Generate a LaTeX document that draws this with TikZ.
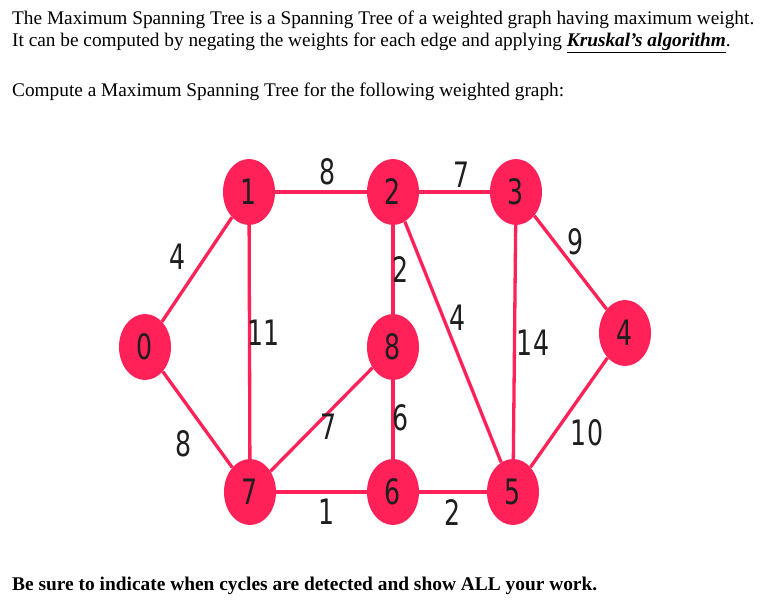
\documentclass[tikz,border=0pt]{standalone}
\usepackage{fontspec}
\setmainfont{Liberation Serif}
\newfontfamily\graphfont[FakeStretch=0.72]{DejaVu Sans}
\usetikzlibrary{shapes.geometric}
\definecolor{gpink}{RGB}{255,33,87}
\definecolor{gdigit}{RGB}{30,30,30}
\begin{document}
\begin{tikzpicture}[x=1pt,y=-1pt,
  vtx/.style={ellipse, fill=gpink, draw=none, minimum width=52pt, minimum height=66pt, inner sep=0pt, font=\graphfont\fontsize{35}{35}\selectfont, text=gdigit},
  edg/.style={draw=gpink, line width=3.3pt},
  wt/.style={font=\graphfont\fontsize{35}{35}\selectfont, text=gdigit, inner sep=0pt},
  txt/.style={anchor=base west, inner sep=0pt, font=\fontsize{19.3}{23}\selectfont},
  btxt/.style={anchor=base west, inner sep=0pt, font=\fontsize{19.4}{23}\selectfont\bfseries}]
\useasboundingbox (0,0) rectangle (770,609);
% text
\node[txt] (t1) at (12,25) {The Maximum Spanning Tree is a Spanning Tree of a weighted graph having maximum weight.};
\node[txt] (t2) at (12,47) {It can be computed by negating the weights for each edge and applying \underline{\textbf{\textit{Kruskal’s algorithm}}}.};
\node[txt] (t3) at (12,97) {Compute a Maximum Spanning Tree for the following weighted graph:};
\node[btxt] (t4) at (12,590) {Be sure to indicate when cycles are detected and show ALL your work.};
% vertices
\node[vtx] (n0) at (145,347) {0};
\node[vtx] (n1) at (249,192) {1};
\node[vtx] (n2) at (393,192) {2};
\node[vtx] (n3) at (516,192) {3};
\node[vtx] (n4) at (625,333) {4};
\node[vtx] (n8) at (393,347) {8};
\node[vtx] (n7) at (250,492) {7};
\node[vtx] (n6) at (393,492) {6};
\node[vtx] (n5) at (513,492) {5};
% edges
\draw[edg] (n0) -- (n1);
\draw[edg] (n0) -- (n7);
\draw[edg] (n1) -- (n2);
\draw[edg] (n1) -- (n7);
\draw[edg] (n2) -- (n3);
\draw[edg] (n2) -- (n8);
\draw[edg] (n2) -- (n5);
\draw[edg] (n3) -- (n5);
\draw[edg] (n3) -- (n4);
\draw[edg] (n4) -- (n5);
\draw[edg] (n8) -- (n7);
\draw[edg] (n8) -- (n6);
\draw[edg] (n7) -- (n6);
\draw[edg] (n6) -- (n5);
% weights
\node[wt] (w01) at (178,257) {4};
\node[wt] (w12) at (328,172) {8};
\node[wt] (w17) at (264,333) {11};
\node[wt] (w28) at (401,270) {2};
\node[wt] (w23) at (462,175) {7};
\node[wt] (w25) at (458,318) {4};
\node[wt] (w34) at (576,242) {9};
\node[wt] (w35) at (533,343) {14};
\node[wt] (w45) at (587,433) {10};
\node[wt] (w07) at (184,444) {8};
\node[wt] (w87) at (329,427) {7};
\node[wt] (w86) at (401,418) {6};
\node[wt] (w76) at (327,512) {1};
\node[wt] (w65) at (453,513) {2};
\end{tikzpicture}
\end{document}
